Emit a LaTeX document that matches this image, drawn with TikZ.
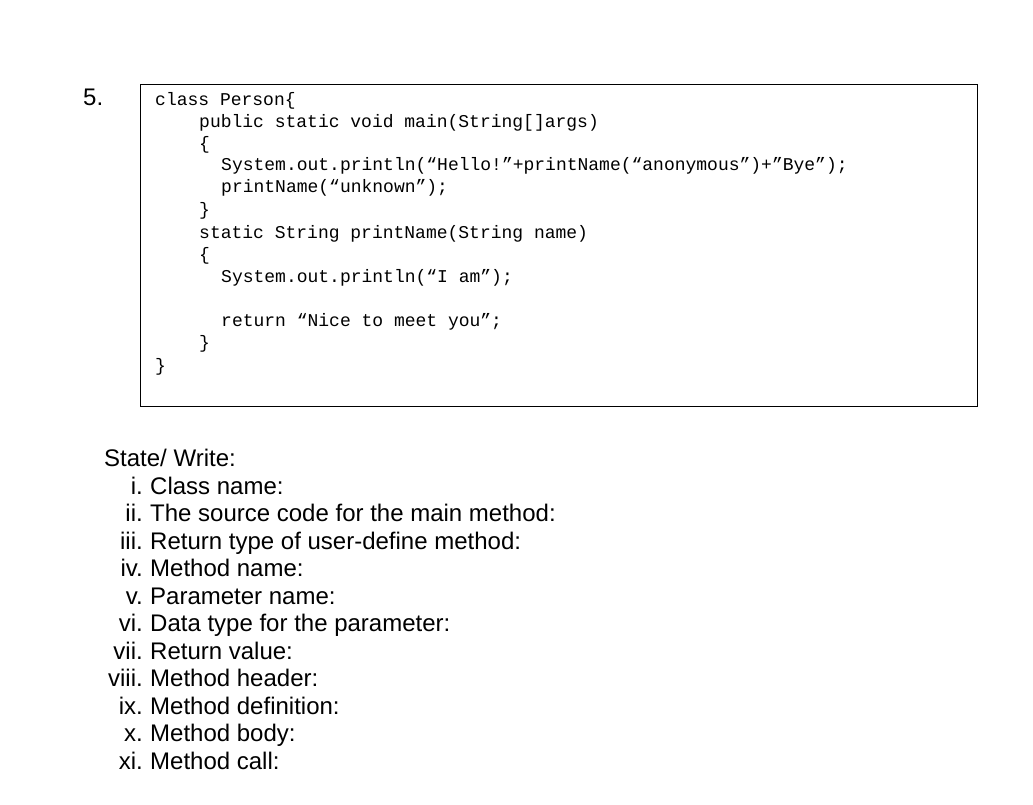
\documentclass[tikz,border=0pt]{standalone}
\usepackage{fontspec}
\setmainfont{Liberation Sans}
\setmonofont{Liberation Mono}
\begin{document}
\begin{tikzpicture}[x=1pt,y=-1pt,
  code/.style={anchor=base west,inner sep=0,font=\fontsize{18}{20}\ttfamily},
  txt/.style={anchor=base west,inner sep=0,font=\fontsize{24}{26}\selectfont},
  num/.style={anchor=base east,inner sep=0,font=\fontsize{24}{26}\selectfont}]
\useasboundingbox[fill=white] (0,0) rectangle (1033,805);
\node[txt] (n5) at (83,106) {5.};
\node[draw,line width=1.2pt,minimum width=837pt,minimum height=322pt,anchor=north west,inner sep=0] (box) at (140,84) {};
\node[code] (c1) at (155,106) {class Person\{};
\node[code] (c2) at (199,128) {public static void main(String[]args)};
\node[code] (c3) at (199,150) {\{};
\node[code] (c4) at (221,171) {System.out.println(“Hello!”+printName(“anonymous”)+”Bye”);};
\node[code] (c5) at (221,193) {printName(“unknown”);};
\node[code] (c6) at (199,215) {\}};
\node[code] (c7) at (199,238) {static String printName(String name)};
\node[code] (c8) at (199,260) {\{};
\node[code] (c9) at (221,282) {System.out.println(“I am”);};
\node[code] (c10) at (221,326) {return “Nice to meet you”;};
\node[code] (c11) at (199,348) {\}};
\node[code] (c12) at (155,371) {\}};
\node[txt] (sw) at (104,466) {State/ Write:};
\foreach \r/\t [count=\i] in {i./Class name:,ii./The source code for the main method:,iii./Return type of user-define method:,iv./Method name:,v./Parameter name:,vi./Data type for the parameter:,vii./Return value:,viii./Method header:,ix./Method definition:,x./Method body:,xi./Method call:}{
  \node[num] (r\i) at (143,{494+(\i-1)*27.5}) {\r};
  \node[txt] (t\i) at (150,{494+(\i-1)*27.5}) {\t};
}
\end{tikzpicture}
\end{document}
